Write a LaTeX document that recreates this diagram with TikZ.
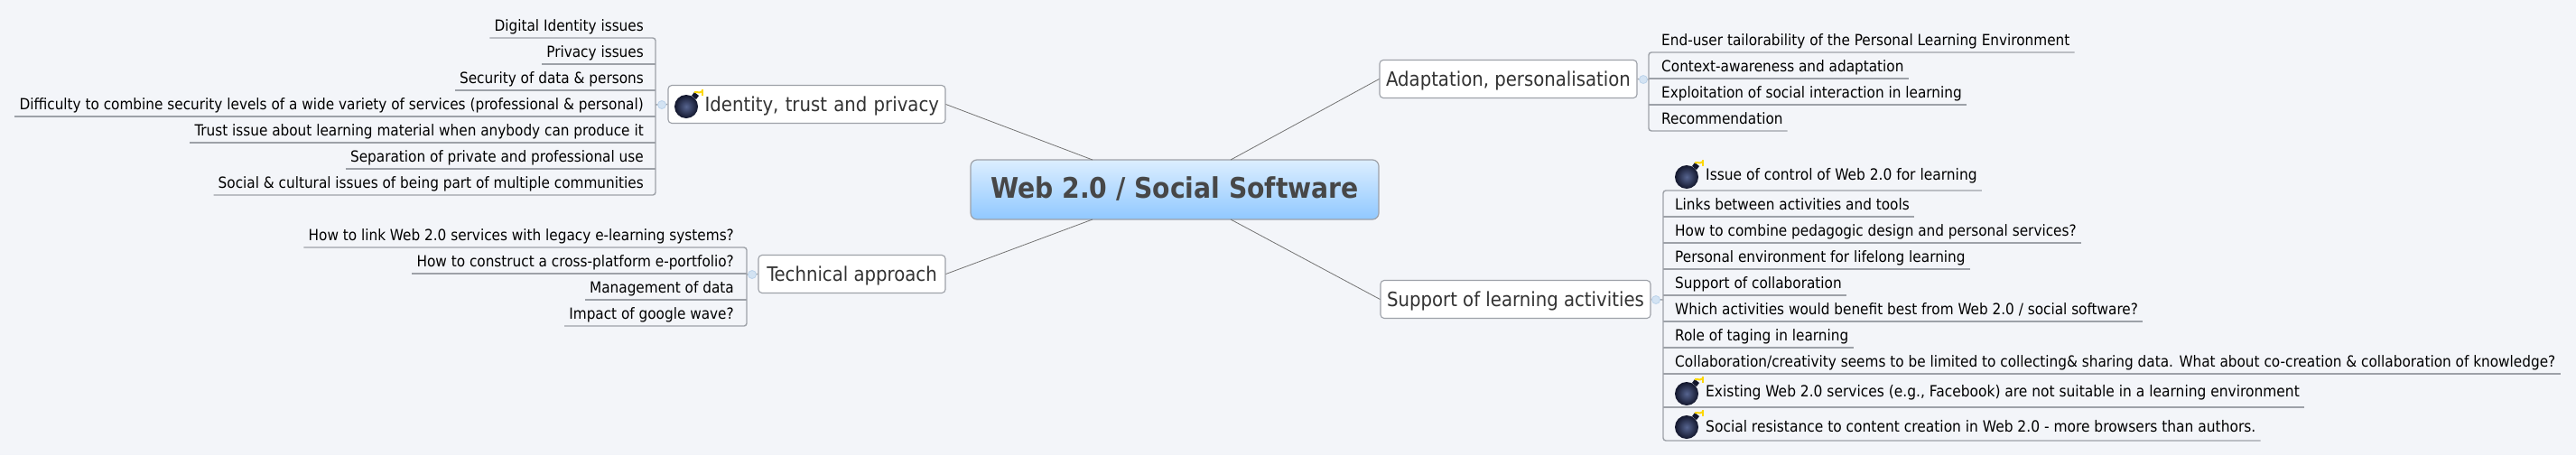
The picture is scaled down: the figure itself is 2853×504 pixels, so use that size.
\documentclass[tikz,border=0pt]{standalone}
\usepackage{fontspec}
\setmainfont{DejaVu Sans Condensed}
\begin{document}
\begin{tikzpicture}[x=1pt,y=-1pt]
			\definecolor{paper}{HTML}{F3F5F9}
			\definecolor{rule}{HTML}{9DA1A8}
			\definecolor{bombcore}{HTML}{56648F}
			\definecolor{bombrim}{HTML}{12162C}
			\definecolor{hubtop}{HTML}{DCEEFF}
			\definecolor{hubfoot}{HTML}{90C8FF}
			\definecolor{knobfill}{HTML}{D3E3F3}
			\definecolor{knobline}{HTML}{BCD3EA}
			\tikzset{bomb/.pic={
				\shade[inner color=bombcore,outer color=bombrim] (0,0) circle (13);
				\fill[bombrim] (6,-12) -- (11,-8) -- (14,-12) -- (9,-16) -- cycle;
				\draw[yellow!75!orange,line width=2] (9,-16) .. controls (12,-17) and (14,-14) .. (18,-17);
				\draw[yellow!75!orange,line width=1.6] (18,-19) -- (18,-12);
			}}
			\tikzstyle{hub}=[rectangle,rounded corners=7,draw=rule,line width=1.2,top color=hubtop,bottom color=hubfoot,text=black!72,font=\fontsize{31.4}{34}\selectfont\bfseries,minimum width=452,minimum height=66,inner sep=0,text height=22,text depth=4]
			\tikzstyle{topic}=[rectangle,rounded corners=4,draw=rule,line width=1.1,fill=white,text=black!80,font=\fontsize{21.9}{25}\selectfont,minimum height=42,inner xsep=7,inner ysep=0,text height=18,text depth=3]
			\tikzstyle{leaf}=[inner xsep=5,inner ysep=4,text height=13,text depth=3,text=black,font=\fontsize{17}{20}\selectfont]
			\tikzstyle{leafl}=[leaf,anchor=south east]
			\tikzstyle{leafr}=[leaf,anchor=south west]
			\tikzstyle{bombleaf}=[leafr,inner ysep=8,font=\fontsize{17.2}{20}\selectfont]
			\tikzstyle{twig}=[draw=rule,line width=1.4,rounded corners=3]
			\tikzstyle{link}=[draw=black!55,line width=.8]
			\tikzstyle{knob}=[circle,draw=knobline,fill=knobfill,line width=.8,minimum size=9,inner sep=0]
			\fill[paper] (0,0) rectangle (2853,504);
			\useasboundingbox (0,0) rectangle (2853,504);

			\coordinate (hubnw) at (1210,177);
			\coordinate (hubne) at (1363,177);
			\coordinate (hubsw) at (1210,243);
			\coordinate (hubse) at (1363,243);
			\node[hub] (hub) at (1301,210) {Web 2.0 / Social Software};

			\node[topic,minimum width=307,text width=293,align=right] (identity) at (893.5,115.5) {Identity, trust and privacy};
			\node[topic,minimum width=207] (technical) at (943.5,303.5) {Technical approach};
			\node[topic,minimum width=285] (adaptation) at (1670.5,87.5) {Adaptation, personalisation};
			\node[topic,minimum width=299] (support) at (1678.5,331.5) {Support of learning activities};

			\draw[link] (hubnw) -- (identity.east);
			\draw[link] (hubsw) -- (technical.east);
			\draw[link] (hubne) -- (adaptation.west);
			\draw[link] (hubse) -- (support.west);

			\coordinate (idspine) at (726,116);
			\node[leafl] (id1) at (718,42) {Digital Identity issues};
			\node[leafl] (id2) at (718,71) {Privacy issues};
			\node[leafl] (id3) at (718,100) {Security of data \& persons};
			\node[leafl] (id4) at (718,129) {Difficulty to combine security levels of a wide variety of services (professional \& personal)};
			\node[leafl] (id5) at (718,158) {Trust issue about learning material when anybody can produce it};
			\node[leafl] (id6) at (718,187) {Separation of private and professional use};
			\node[leafl] (id7) at (718,216) {Social \& cultural issues of being part of multiple communities};
			\draw[twig] (id1.south west) -- (id1.south -| idspine) -- (id7.south -| idspine) -- (id7.south west);
			\foreach \n in {id2,id3,id4,id5,id6}
				\draw[twig] (\n.south west) -- (\n.south -| idspine);
			\draw[twig] (idspine) -- (identity.west);
			\node[knob] (idknob) at (733,116) {};

			\coordinate (techspine) at (827,304);
			\node[leafl] (tech1) at (818,274) {How to link Web 2.0 services with legacy e-learning systems?};
			\node[leafl] (tech2) at (818,303) {How to construct a cross-platform e-portfolio?};
			\node[leafl] (tech3) at (818,332) {Management of data};
			\node[leafl] (tech4) at (818,361) {Impact of google wave?};
			\draw[twig] (tech1.south west) -- (tech1.south -| techspine) -- (tech4.south -| techspine) -- (tech4.south west);
			\foreach \n in {tech2,tech3}
				\draw[twig] (\n.south west) -- (\n.south -| techspine);
			\draw[twig] (techspine) -- (technical.west);
			\node[knob] (techknob) at (833,304) {};

			\coordinate (adspine) at (1826,88);
			\node[leafr] (ad1) at (1835,58) {End-user tailorability of the Personal Learning Environment};
			\node[leafr] (ad2) at (1835,87) {Context-awareness and adaptation};
			\node[leafr] (ad3) at (1835,116) {Exploitation of social interaction in learning};
			\node[leafr] (ad4) at (1835,145) {Recommendation};
			\draw[twig] (ad1.south east) -- (ad1.south -| adspine) -- (ad4.south -| adspine) -- (ad4.south east);
			\foreach \n in {ad2,ad3}
				\draw[twig] (\n.south east) -- (\n.south -| adspine);
			\draw[twig] (adspine) -- (adaptation.east);
			\node[knob] (adknob) at (1820,88) {};

			\coordinate (supspine) at (1842,332);
			\node[bombleaf] (sup1) at (1884,211) {Issue of control of Web 2.0 for learning};
			\node[leafr] (sup2) at (1850,240) {Links between activities and tools};
			\node[leafr] (sup3) at (1850,269) {How to combine pedagogic design and personal services?};
			\node[leafr] (sup4) at (1850,298) {Personal environment for lifelong learning};
			\node[leafr] (sup5) at (1850,327) {Support of collaboration};
			\node[leafr] (sup6) at (1850,356) {Which activities would benefit best from Web 2.0 / social software?};
			\node[leafr] (sup7) at (1850,385) {Role of taging in learning};
			\node[leafr] (sup8) at (1850,414) {Collaboration/creativity seems to be limited to collecting\& sharing data. What about co-creation \& collaboration of knowledge?};
			\node[bombleaf] (sup9) at (1884,451) {Existing Web 2.0 services (e.g., Facebook) are not suitable in a learning environment};
			\node[bombleaf,inner ysep=6] (sup10) at (1884,488) {Social resistance to content creation in Web 2.0 - more browsers than authors.};
			\draw[twig] (sup1.south east) -- (sup1.south -| supspine) -- (sup10.south -| supspine) -- (sup10.south east);
			\foreach \n in {sup2,sup3,sup4,sup5,sup6,sup7,sup8,sup9}
				\draw[twig] (\n.south east) -- (\n.south -| supspine);
			\draw[twig] (supspine) -- (support.east);
			\node[knob] (supknob) at (1834,332) {};

			\pic at (760,118) {bomb};
			\pic at (1868,196) {bomb};
			\pic at (1868,436) {bomb};
			\pic at (1868,473) {bomb};
		\end{tikzpicture}
\end{document}
